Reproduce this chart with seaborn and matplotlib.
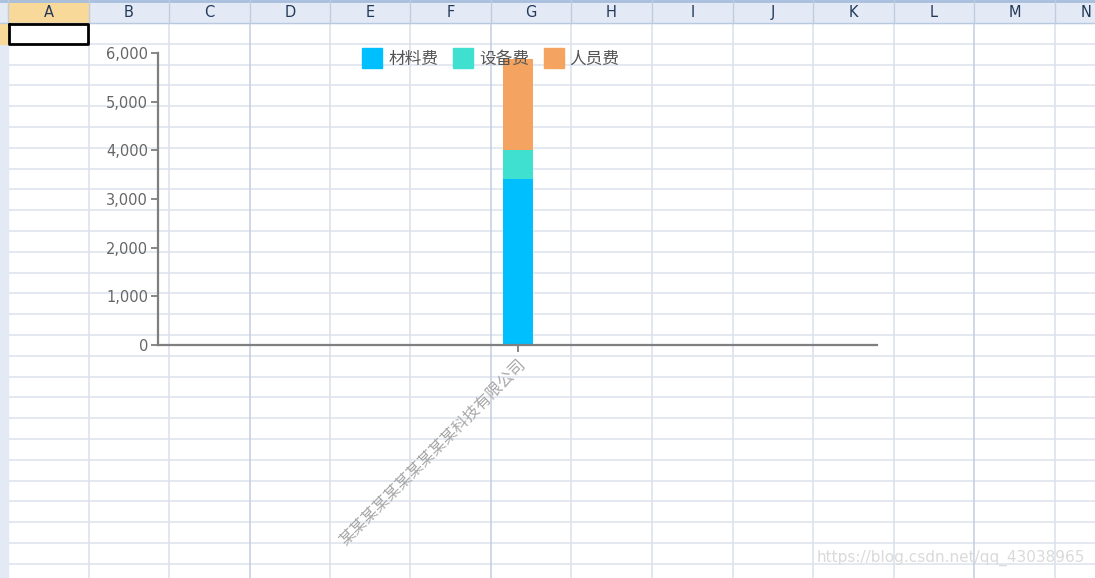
import matplotlib
matplotlib.use("Agg")
import matplotlib.pyplot as plt
from matplotlib.lines import Line2D
from matplotlib.ticker import FuncFormatter
import seaborn as sns
import pandas as pd

# chart data
company = ["某某某某某某某某某某科技有限公司"]
cost_types = ["材料费", "设备费", "人员费"]
material = [3410]
equipment = [600]
staff = [1870]
colors = ["#00BFFF", "#40E0D0", "#F4A460"]

# spreadsheet decoration (pixel layout of the screenshot)
col_letters = list("ABCDEFGHIJKLMN")
col_edges = [8, 89, 169, 250, 330, 410, 491, 571, 652, 733, 813, 894, 974, 1055, 1120]

sns.set_style("ticks")
plt.rcParams["font.family"] = ["Noto Sans CJK SC", "DejaVu Sans"]

W, H = 1095, 578
fig = plt.figure(figsize=(W / 100, H / 100), dpi=100)
fig.patch.set_facecolor("white")

# --- excel background ---
bg = fig.add_axes([0, 0, 1, 1])
bg.set_xlim(0, W)
bg.set_ylim(H, 0)
bg.axis("off")
grid_c = "#DCE2EC"
head_h = 23
row_h = 20.8
y = head_h
while y < H:
    bg.plot([0, W], [y, y], color=grid_c, lw=1.1, zorder=1)
    y += row_h
for xe in col_edges:
    lc = "#C8D1E2" if xe in (250, 491, 974) else grid_c
    bg.plot([xe, xe], [0, H], color=lc, lw=1.2, zorder=1)
# header band
bg.fill_between([0, W], 0, head_h, color="#E3EAF5", zorder=2)
bg.fill_between([8, 89], 0, head_h, color="#F9D99A", zorder=2)
bg.fill_between([0, 8], head_h, H, color="#E3EAF5", zorder=2)
bg.fill_between([0, 8], head_h, head_h + row_h, color="#F9D99A", zorder=2)
bg.plot([0, W], [1, 1], color="#A7BEDD", lw=2, zorder=3)
bg.plot([0, W], [head_h, head_h], color="#B9C9DF", lw=1, zorder=3)
for xe in col_edges:
    bg.plot([xe, xe], [0, head_h], color="#C0CDE0", lw=1, zorder=3)
for i, letter in enumerate(col_letters):
    cx = min((col_edges[i] + col_edges[i + 1]) / 2, 1086)
    bg.text(cx, head_h / 2 + 1, letter, ha="center", va="center",
            fontsize=10.5, color="#22395A", family="DejaVu Sans", zorder=4)
# selected cell A1
bg.plot([9, 88, 88, 9, 9], [24, 24, 44, 44, 24], color="black", lw=2, zorder=4)

# --- chart ---
x0, x1 = 158, 877
y0, y1 = 53, 345
ax = fig.add_axes([x0 / W, 1 - y1 / H, (x1 - x0) / W, (y1 - y0) / H])
ax.patch.set_alpha(0)

df = pd.DataFrame({"company": company, "材料费": material,
                   "设备费": equipment, "人员费": staff})
df["c2"] = df["材料费"] + df["设备费"]
df["c3"] = df["c2"] + df["人员费"]
bw = 30 / (x1 - x0)
for col, c in zip(["c3", "c2", "材料费"], colors[::-1]):
    sns.barplot(data=df, x="company", y=col, color=c, width=bw,
                saturation=1, linewidth=0, ax=ax, zorder=2)

ax.set_xlim(-0.5, 0.5)
ax.set_ylim(0, 6000)
ax.set_yticks(range(0, 6001, 1000))
ax.yaxis.set_major_formatter(FuncFormatter(lambda v, p: f"{int(v):,}"))
ax.set_xlabel("")
ax.set_ylabel("")
sns.despine(ax=ax)
for s in ("left", "bottom"):
    ax.spines[s].set_color("#7F7F7F")
    ax.spines[s].set_linewidth(1.6)
ax.tick_params(axis="y", length=5, width=1.3, color="#7F7F7F",
               labelcolor="#666666", labelsize=10.5, pad=2)
for lab in ax.get_yticklabels():
    lab.set_family("DejaVu Sans")
ax.tick_params(axis="x", length=5, width=1.3, color="#7F7F7F",
               labelcolor="#A8A8A8", labelsize=11.5, pad=3)
for lab in ax.get_xticklabels():
    lab.set_rotation(45)
    lab.set_ha("right")
    lab.set_rotation_mode("anchor")

handles = [Line2D([], [], marker="s", ls="", markersize=14, color=c)
           for c in colors]
fig.legend(handles, cost_types, loc="center", ncol=3, frameon=False,
           bbox_to_anchor=(491 / W, 1 - 59 / H), fontsize=12,
           labelcolor="#555555", handlelength=1.2, handletextpad=0.35,
           columnspacing=0.9)

fig.text(1085 / W, 1 - 558 / H, "https://blog.csdn.net/qq_43038965",
         ha="right", va="center", fontsize=11, color="#DADADA",
         family="DejaVu Sans")

fig.savefig("out.png", dpi=100)
